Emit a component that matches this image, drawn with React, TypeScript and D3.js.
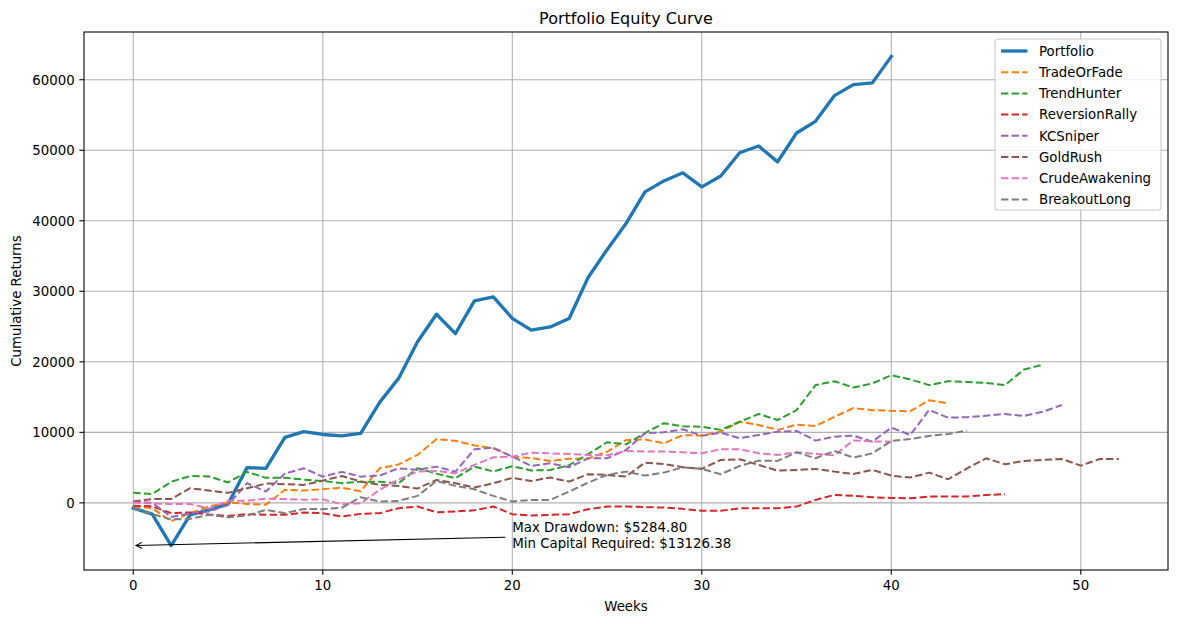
import React from 'react';
import * as d3 from 'd3';

// ---- Data ----
const portfolio = [-750, -1600, -6050, -1700, -1000, -150, 5000, 4900, 9300, 10100, 9700, 9500, 9850, 14250, 17650, 22850, 26750, 24000, 28650, 29200, 26150, 24500, 24950, 26150, 31950, 35900, 39600, 44100, 45650, 46800, 44800, 46350, 49650, 50600, 48350, 52450, 54100, 57750, 59300, 59550, 63300];
const tradeOrFade = [-500, -750, -2600, -1450, -500, 50, -150, -250, 1850, 1750, 1950, 2150, 1650, 4900, 5450, 6800, 9050, 8800, 8150, 7750, 6550, 6350, 5950, 6250, 6300, 7250, 8900, 9000, 8450, 9600, 9550, 10100, 11500, 11050, 10350, 11100, 10900, 12200, 13450, 13150, 13050, 13000, 14550, 14100];
const trendHunter = [1450, 1250, 3000, 3800, 3750, 2900, 4400, 3550, 3550, 3300, 3100, 2800, 3000, 3000, 2800, 4900, 4150, 3500, 5150, 4450, 5200, 4600, 4650, 5350, 6900, 8600, 8300, 9900, 11300, 10850, 10800, 10350, 11500, 12600, 11750, 13150, 16700, 17250, 16350, 16950, 18100, 17500, 16700, 17250, 17150, 17000, 16700, 18900, 19600];
const reversionRally = [-400, -500, -1450, -1350, -1650, -1850, -1600, -1700, -1700, -1370, -1460, -1930, -1560, -1460, -750, -520, -1320, -1230, -1050, -520, -1600, -1790, -1700, -1600, -900, -520, -520, -610, -660, -850, -1130, -1130, -750, -750, -750, -520, 420, 1130, 990, 800, 700, 660, 900, 900, 900, 1130, 1230];
const kcSniper = [200, 0, -2000, -1460, -1230, -300, 2800, 1600, 4150, 4900, 3720, 4400, 3720, 3870, 4900, 4670, 5140, 4430, 7600, 7830, 6560, 5240, 5610, 5050, 6320, 6320, 7500, 9870, 10000, 10430, 9530, 9960, 9160, 9630, 10100, 10200, 8830, 9390, 9530, 8680, 10670, 9630, 13170, 12080, 12150, 12370, 12600, 12320, 12930, 13880];
const goldRush = [200, 550, 550, 2080, 1740, 1420, 2080, 2740, 2640, 2550, 3150, 3820, 3020, 2550, 2410, 2030, 3250, 2780, 2170, 2780, 3540, 3110, 3590, 3020, 4060, 3960, 3730, 5710, 5520, 5050, 4820, 6090, 6180, 5380, 4570, 4670, 4820, 4430, 4100, 4670, 3870, 3590, 4290, 3350, 4900, 6320, 5470, 5950, 6090, 6230, 5280, 6230, 6230];
const crudeAwakening = [50, -100, -150, -150, -800, 300, 300, 600, 550, 450, 500, -200, -50, 1850, 3350, 4430, 4530, 4200, 5380, 6470, 6560, 7120, 7030, 6940, 6800, 6750, 7360, 7270, 7300, 7170, 7030, 7600, 7600, 7030, 6800, 7170, 6950, 6750, 8850, 8700, 8680];
const breakoutLong = [-800, -1600, -2350, -2270, -1700, -2050, -1800, -990, -1460, -870, -890, -700, 800, 190, 280, 990, 3100, 2410, 1930, 990, 200, 420, 420, 1600, 2880, 3960, 4430, 3870, 4290, 5050, 4820, 4060, 5240, 5990, 5950, 7170, 6320, 7360, 6420, 7030, 8780, 9060, 9490, 9770, 10240];

const strategyNames = ['TradeOrFade', 'TrendHunter', 'ReversionRally', 'KCSniper', 'GoldRush', 'CrudeAwakening', 'BreakoutLong'];
const strategyValues = [tradeOrFade, trendHunter, reversionRally, kcSniper, goldRush, crudeAwakening, breakoutLong];
const strategyColors = ['#ff7f0e', '#2ca02c', '#d62728', '#9467bd', '#8c564b', '#e377c2', '#7f7f7f'];
const portfolioColor = '#1f77b4';

const xTicks = [0, 10, 20, 30, 40, 50];
const yTicks = [0, 10000, 20000, 30000, 40000, 50000, 60000];

const annotationLines = ['Max Drawdown: $5284.80', 'Min Capital Required: $13126.38'];
const annotationText = { x: 20, y: -4870 };

const FONT = '"DejaVu Sans", Verdana, sans-serif';

export default function App() {
  const W = 1178;
  const H = 624;
  const L = 84, R = 1168, T = 32, B = 570;

  const allSeries = [portfolio, ...strategyValues];
  const maxLen = d3.max(allSeries, (s) => s.length - 1) as number;
  const xPad = maxLen * 0.05;
  const yMin = d3.min(allSeries, (s) => d3.min(s)) as number;
  const yMax = d3.max(allSeries, (s) => d3.max(s)) as number;
  const yPad = (yMax - yMin) * 0.05;

  const x = d3.scaleLinear().domain([-xPad, maxLen + xPad]).range([L, R]);
  const y = d3.scaleLinear().domain([yMin - yPad, yMax + yPad]).range([B, T]);

  const line = d3
    .line<number>()
    .x((_, i) => x(i))
    .y((d) => y(d));

  // annotation geometry
  const minVal = d3.min(portfolio) as number;
  const minIdx = portfolio.indexOf(minVal);
  const tipX0 = x(0);
  const tipY0 = y(minVal);
  const textX = x(annotationText.x);
  const textCY = y(annotationText.y);
  const startX = textX - 7;
  const startY = textCY;
  const dx = tipX0 - startX;
  const dy = tipY0 - startY;
  const len = Math.sqrt(dx * dx + dy * dy);
  const ux = dx / len, uy = dy / len;
  const tipX = tipX0 - ux * 2.7;
  const tipY = tipY0 - uy * 2.7;
  const hl = 6, hw = 3;
  const h1x = tipX - ux * hl - uy * hw, h1y = tipY - uy * hl + ux * hw;
  const h2x = tipX - ux * hl + uy * hw, h2y = tipY - uy * hl - ux * hw;

  const legendItems = [{ name: 'Portfolio', color: portfolioColor, solid: true }].concat(
    strategyNames.map((n, i) => ({ name: n, color: strategyColors[i], solid: false }))
  );
  const legX = 995, legY = 39, legW = 166, legH = 171;

  return (
    <svg width={W} height={H} style={{ position: 'absolute', left: 0, top: 0, background: '#fff' }} fontFamily={FONT}>
      <rect x={0} y={0} width={W} height={H} fill="#fff" />
      {/* grid */}
      <g stroke="#b0b0b0" strokeWidth={1.07}>
        {xTicks.map((t) => (
          <line key={'gx' + t} x1={x(t)} x2={x(t)} y1={T} y2={B} />
        ))}
        {yTicks.map((t) => (
          <line key={'gy' + t} x1={L} x2={R} y1={y(t)} y2={y(t)} />
        ))}
      </g>
      {/* lines */}
      <g fill="none">
        <path d={line(portfolio) || ''} stroke={portfolioColor} strokeWidth={3.33} strokeLinejoin="round" strokeLinecap="square" />
        {strategyValues.map((s, i) => (
          <path key={strategyNames[i]} d={line(s) || ''} stroke={strategyColors[i]} strokeWidth={2} strokeDasharray="7.4 3.2" strokeLinejoin="round" />
        ))}
      </g>
      {/* annotation */}
      <g stroke="#000" strokeWidth={1.07} fill="none">
        <line x1={startX} y1={startY} x2={tipX} y2={tipY} />
        <polyline points={`${h1x},${h1y} ${tipX},${tipY} ${h2x},${h2y}`} />
      </g>
      <text x={textX} y={textCY - 5.5} fontSize={13.33} fill="#000">
        {annotationLines[0]}
      </text>
      <text x={textX} y={textCY + 10.5} fontSize={13.33} fill="#000">
        {annotationLines[1]}
      </text>
      {/* frame */}
      <rect x={L} y={T} width={R - L} height={B - T} fill="none" stroke="#000" strokeWidth={1.07} />
      {/* x ticks */}
      <g>
        {xTicks.map((t) => (
          <g key={'xt' + t}>
            <line x1={x(t)} x2={x(t)} y1={B} y2={B + 4.67} stroke="#000" strokeWidth={1.07} />
            <text x={x(t)} y={B + 9.33} dy="0.78em" fontSize={13.33} textAnchor="middle" fill="#000">
              {t}
            </text>
          </g>
        ))}
      </g>
      {/* y ticks */}
      <g>
        {yTicks.map((t) => (
          <g key={'yt' + t}>
            <line x1={L - 4.67} x2={L} y1={y(t)} y2={y(t)} stroke="#000" strokeWidth={1.07} />
            <text x={L - 9.33} y={y(t)} dy="0.36em" fontSize={13.33} textAnchor="end" fill="#000">
              {t}
            </text>
          </g>
        ))}
      </g>
      {/* axis labels */}
      <text x={(L + R) / 2} y={601} dy="0.78em" fontSize={13.33} textAnchor="middle" fill="#000">
        Weeks
      </text>
      <text transform={`translate(21, ${(T + B) / 2}) rotate(-90)`} fontSize={13.33} textAnchor="middle" fill="#000">
        Cumulative Returns
      </text>
      {/* title */}
      <text x={(L + R) / 2} y={24} fontSize={16} textAnchor="middle" fill="#000">
        Portfolio Equity Curve
      </text>
      {/* legend */}
      <g>
        <rect x={legX} y={legY} width={legW} height={legH} rx={3} ry={3} fill="#fff" fillOpacity={0.8} stroke="#cccccc" strokeWidth={1.07} />
        {legendItems.map((it, i) => {
          const cy = 51 + i * 21.2;
          return (
            <g key={it.name}>
              <line
                x1={1001}
                x2={1027.5}
                y1={cy}
                y2={cy}
                stroke={it.color}
                strokeWidth={it.solid ? 3.33 : 2}
                strokeDasharray={it.solid ? undefined : '7.4 3.2'}
              />
              <text x={1039} y={cy} dy="0.36em" fontSize={13.33} fill="#000">
                {it.name}
              </text>
            </g>
          );
        })}
      </g>
    </svg>
  );
}
